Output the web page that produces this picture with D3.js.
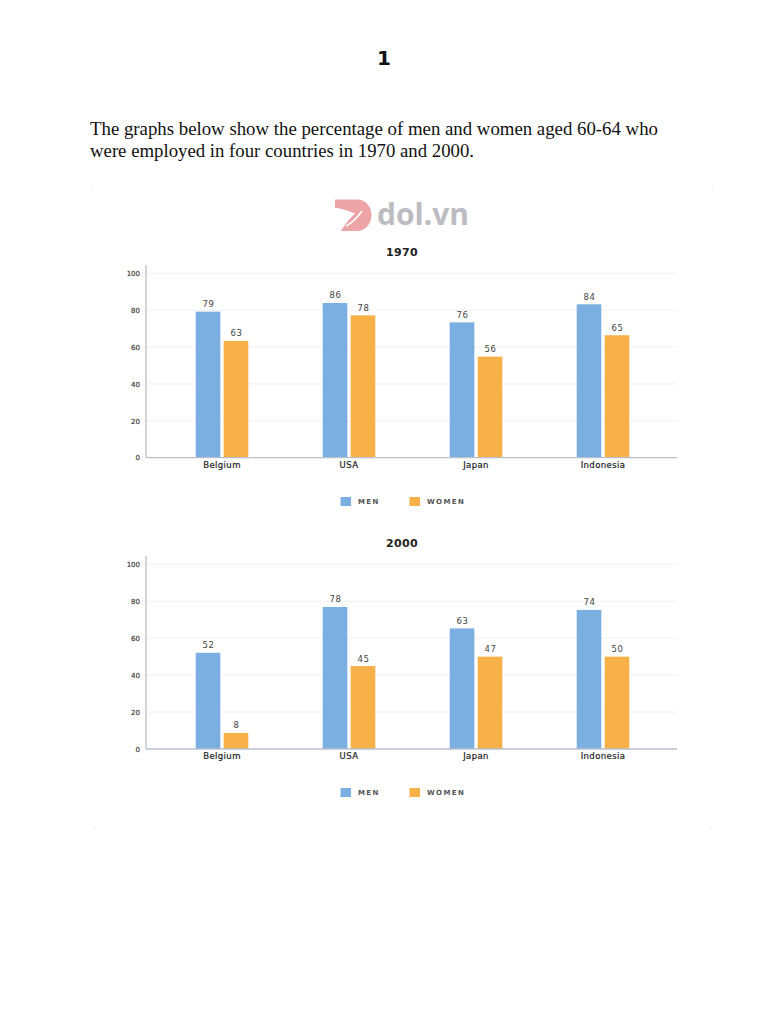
<!DOCTYPE html>
<html>
<head>
<meta charset="utf-8">
<script src="https://cdn.jsdelivr.net/npm/d3@7"></script>
<style>
  html, body { margin: 0; padding: 0; background: #ffffff; }
  svg { display: block; }
</style>
</head>
<body>
<svg id="page" width="768" height="1024"></svg>
<script>
// ---------- data ----------
const categories = ["Belgium", "USA", "Japan", "Indonesia"];
const seriesKeys = ["men", "women"];
const seriesNames = ["MEN", "WOMEN"];
const yTicks = [0, 20, 40, 60, 80, 100];

const chartTitles = ["1970", "2000"];

// bar heights as drawn
const men1970 = [79.2, 83.9, 73.4, 83.2];
const women1970 = [63.3, 77.2, 54.8, 66.4];
const men2000 = [52.1, 76.9, 65.3, 75.3];
const women2000 = [8.7, 44.9, 50, 50];

// value labels as printed
const menLabels1970 = ["79", "86", "76", "84"];
const womenLabels1970 = ["63", "78", "56", "65"];
const menLabels2000 = ["52", "78", "63", "74"];
const womenLabels2000 = ["8", "45", "47", "50"];

const pageNumber = "1";
const introLines = [
  "The graphs below show the percentage of men and women aged 60-64 who",
  "were employed in four countries in 1970 and 2000."
];
const introWidths = [568, 384];

// ---------- styles ----------
const colors = { men: "#7cafe1", women: "#f8b049" };
const chartFont = "'DejaVu Sans', 'Noto Sans', sans-serif";

const svg = d3.select("#page");
svg.append("rect").attr("width", 768).attr("height", 1024).attr("fill", "#fff");

// page number
svg.append("text")
  .attr("x", 384).attr("y", 65)
  .attr("text-anchor", "middle")
  .attr("font-family", "'DejaVu Sans', sans-serif")
  .attr("font-weight", "bold")
  .attr("font-size", 20)
  .attr("fill", "#111")
  .text(pageNumber);

// intro paragraph
svg.selectAll("text.intro").data(introLines).join("text")
  .attr("class", "intro")
  .attr("x", 90)
  .attr("y", (d, i) => 135 + i * 22)
  .attr("font-family", "'Liberation Serif', 'Times New Roman', serif")
  .attr("font-size", 18.5)
  .attr("textLength", (d, i) => introWidths[i])
  .attr("lengthAdjust", "spacingAndGlyphs")
  .attr("fill", "#111")
  .text(d => d);

// faint corner marks of the embedded image
[[92, 187], [713, 187], [95, 828], [711, 828]].forEach(p => {
  svg.append("circle").attr("cx", p[0]).attr("cy", p[1]).attr("r", 0.8).attr("fill", "#e4e4e4");
});

// logo
const logo = svg.append("g");
logo.append("path")
  .attr("d", "M335,199.5 L357,199.5 C366,199.5 371.5,207 371.5,215 C371.5,224 365,231 357,231 L341,231 C345,224 350,218 355,213.5 C348,210.5 341,208.5 335,207.5 Z")
  .attr("fill", "#eda4a7");
logo.append("path")
  .attr("d", "M346,226 C352,223 357,218 362,211")
  .attr("fill", "none").attr("stroke", "#fff").attr("stroke-width", 1.6);
logo.append("text")
  .attr("x", 377).attr("y", 225)
  .attr("font-family", "'Open Sans', sans-serif")
  .attr("font-weight", "bold")
  .attr("font-size", 30)
  .attr("fill", "#bcbcc2")
  .text("dol.vn");

// ---------- charts ----------
const chartDefs = [
  { title: chartTitles[0], men: men1970, women: women1970, menL: menLabels1970, womenL: womenLabels1970,
    yTop: 273.3, yBottom: 457.7, axisTop: 265, titleY: 256, legendY: 501.5 },
  { title: chartTitles[1], men: men2000, women: women2000, menL: menLabels2000, womenL: womenLabels2000,
    yTop: 564.3, yBottom: 749, axisTop: 556, titleY: 547, legendY: 792.5 }
];

const axisX = 146, plotRight = 677;
const x0 = d3.scaleBand().domain(categories).range([158.5, 666.5]).padding(0);
const x1 = d3.scaleBand().domain(seriesKeys).range([-26.3, 26.3]).paddingInner(0.12);

chartDefs.forEach(cd => {
  const g = svg.append("g");
  const y = d3.scaleLinear().domain([0, 100]).range([cd.yBottom, cd.yTop]);

  // title
  g.append("text")
    .attr("x", 402).attr("y", cd.titleY)
    .attr("text-anchor", "middle")
    .attr("font-family", chartFont).attr("font-weight", "bold")
    .attr("font-size", 11).attr("letter-spacing", 0.3)
    .attr("fill", "#222")
    .text(cd.title);

  // grid
  g.selectAll("line.grid").data(yTicks.filter(t => t > 0)).join("line")
    .attr("x1", axisX).attr("x2", plotRight)
    .attr("y1", d => y(d)).attr("y2", d => y(d))
    .attr("stroke", "#f0f0f0").attr("stroke-width", 1);

  // y axis
  const yAxis = g.append("g")
    .attr("transform", `translate(${axisX},0)`)
    .call(d3.axisLeft(y).tickValues(yTicks).tickSize(0).tickPadding(6));
  yAxis.select(".domain").remove();
  yAxis.selectAll("text")
    .attr("font-family", chartFont).attr("font-size", 7)
    .attr("fill", "#333").attr("stroke", "#333").attr("stroke-width", 0.15);
  g.append("line")
    .attr("x1", axisX).attr("x2", axisX)
    .attr("y1", cd.axisTop).attr("y2", cd.yBottom)
    .attr("stroke", "#b9c0cc").attr("stroke-width", 1.3);

  // bars
  const rows = categories.map((c, i) => ({
    cat: c,
    vals: [
      { key: "men", v: cd.men[i], label: cd.menL[i] },
      { key: "women", v: cd.women[i], label: cd.womenL[i] }
    ]
  }));
  const grp = g.selectAll("g.cat").data(rows).join("g")
    .attr("class", "cat")
    .attr("transform", d => `translate(${x0(d.cat) + x0.bandwidth() / 2},0)`);
  grp.selectAll("rect").data(d => d.vals).join("rect")
    .attr("x", d => x1(d.key))
    .attr("width", x1.bandwidth())
    .attr("y", d => y(d.v))
    .attr("height", d => y(0) - y(d.v))
    .attr("fill", d => colors[d.key]);
  grp.selectAll("text.val").data(d => d.vals).join("text")
    .attr("class", "val")
    .attr("x", d => x1(d.key) + x1.bandwidth() / 2 + 0.5)
    .attr("y", d => y(d.v) - 4.5)
    .attr("text-anchor", "middle")
    .attr("font-family", chartFont).attr("font-size", 8.5)
    .attr("letter-spacing", 0.6)
    .attr("fill", "#444")
    .text(d => d.label);

  // x axis
  const xAxis = g.append("g")
    .attr("transform", `translate(0,${cd.yBottom})`)
    .call(d3.axisBottom(x0).tickSize(0).tickPadding(4));
  xAxis.select(".domain").remove();
  xAxis.selectAll("text")
    .attr("font-family", chartFont).attr("font-size", 8.5)
    .attr("letter-spacing", 0.4).attr("fill", "#222")
    .attr("stroke", "#222").attr("stroke-width", 0.2);
  g.append("line")
    .attr("x1", axisX).attr("x2", plotRight)
    .attr("y1", cd.yBottom).attr("y2", cd.yBottom)
    .attr("stroke", "#b9c0cc").attr("stroke-width", 1.3);

  // legend
  const legX = [340.5, 409.5];
  const leg = g.selectAll("g.leg").data(seriesKeys).join("g")
    .attr("class", "leg")
    .attr("transform", (d, i) => `translate(${legX[i]},${cd.legendY})`);
  leg.append("rect")
    .attr("x", 0).attr("y", -4.5).attr("width", 10.5).attr("height", 9)
    .attr("fill", d => colors[d]);
  leg.append("text")
    .attr("x", 17.5).attr("y", 2.5)
    .attr("font-family", chartFont).attr("font-weight", "bold")
    .attr("font-size", 7).attr("letter-spacing", 1.4)
    .attr("fill", "#555")
    .text((d, i) => seriesNames[i]);
});
</script>
</body>
</html>
